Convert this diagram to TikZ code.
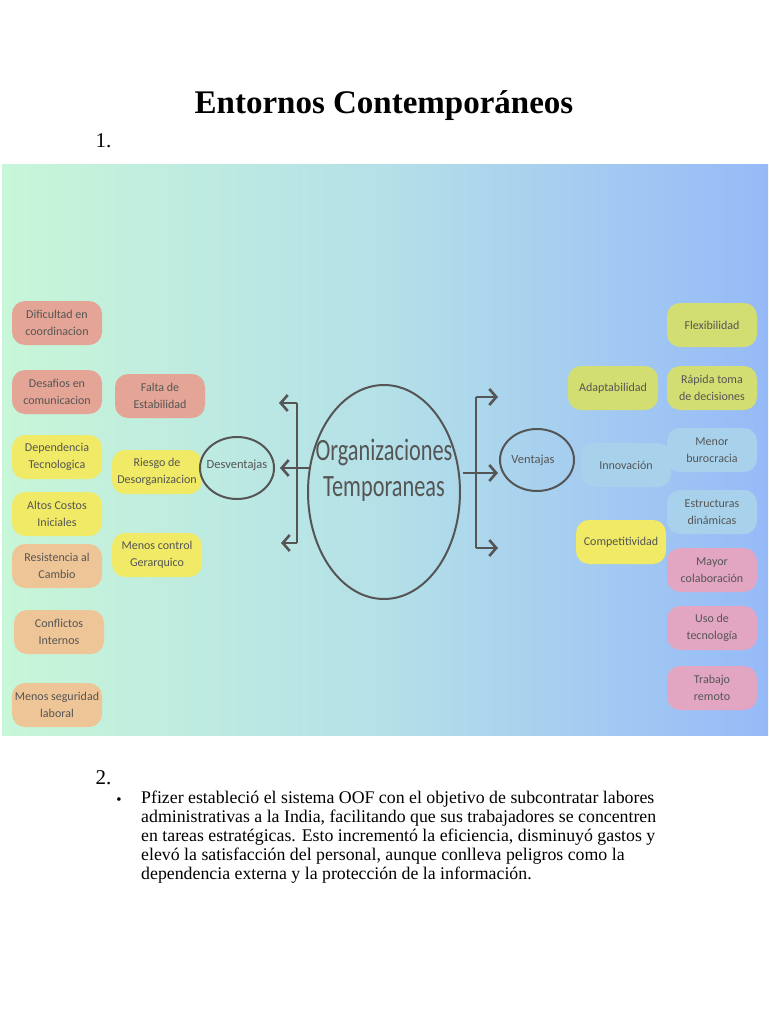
\documentclass[tikz,border=0pt]{standalone}
\usepackage{fontspec}
\setmainfont{Liberation Serif}
\newfontfamily\dfont{Carlito}
\newfontfamily\cfont[FakeStretch=0.72]{Carlito}
\usetikzlibrary{arrows.meta,shapes.geometric}
\definecolor{salm}{HTML}{E4A596}
\definecolor{yel}{HTML}{F0EA66}
\definecolor{peach}{HTML}{EEC596}
\definecolor{lime}{HTML}{D2DE72}
\definecolor{pnk}{HTML}{E2A6C2}
\definecolor{lblue}{HTML}{A8D2EC}
\definecolor{ink}{HTML}{555555}
\tikzset{
 blob/.style={fill=#1, rounded corners=13pt, minimum width=90pt, minimum height=44pt, inner sep=1pt, align=center, font=\dfont\fontsize{12}{17}\selectfont, text=ink},
 hand/.style={draw=ink, line width=2.6pt},
 harrow/.style={hand, -{Straight Barb[length=7pt,width=16pt]}},
 oval/.style={draw=ink, line width=2pt, ellipse, inner sep=0pt}
}
\begin{document}
\begin{tikzpicture}[x=1pt,y=-1pt]
\useasboundingbox (0,0) rectangle (768,1024);
\fill[white] (0,0) rectangle (768,1024);
\node[font=\bfseries\fontsize{33}{36}\selectfont] (title) at (384,106) {Entornos Contemporáneos};
\node[anchor=west,font=\fontsize{21}{24}\selectfont] (n1) at (92,141) {1.};
\fill[left color={rgb,255:red,200;green,246;blue,216}, right color={rgb,255:red,150;green,186;blue,248}, middle color={rgb,255:red,180;green,224;blue,232}] (2,165) rectangle (768,735);
% left column
\node[blob=salm] (a1) at (57,323) {Dificultad en\\coordinacion};
\node[blob=salm] (a2) at (57,392) {Desafios en\\comunicacion};
\node[blob=yel] (a3) at (57,457) {Dependencia\\Tecnologica};
\node[blob=yel] (a4) at (57,514) {Altos Costos\\Iniciales};
\node[blob=peach] (a5) at (57,566) {Resistencia al\\Cambio};
\node[blob=peach] (a6) at (59,632) {Conflictos\\Internos};
\node[blob=peach] (a7) at (57,705) {Menos seguridad\\laboral};
\node[blob=salm] (b1) at (160,396) {Falta de\\Estabilidad};
\node[blob=yel] (b2) at (157,472) {Riesgo de\\Desorganizacion};
\node[blob=yel] (b3) at (157,555) {Menos control\\Gerarquico};
% right
\node[blob=lime] (c1) at (613,388) {Adaptabilidad};
\node[blob=lblue] (c2) at (626,465) {Innovación};
\node[blob=yel] (c3) at (621,542) {Competitividad};
\node[blob=lime] (d1) at (712,325) {Flexibilidad};
\node[blob=lime] (d2) at (712,388) {Rápida toma\\de decisiones};
\node[blob=lblue] (d3) at (712,450) {Menor\\burocracia};
\node[blob=lblue] (d4) at (712,512) {Estructuras\\dinámicas};
\node[blob=pnk] (d5) at (712,570) {Mayor\\colaboración};
\node[blob=pnk] (d6) at (712,628) {Uso de\\tecnología};
\node[blob=pnk] (d7) at (712,688) {Trabajo\\remoto};
% center
\node[oval, minimum width=152pt, minimum height=214pt] (org) at (384,492) {};
\node[font=\cfont\fontsize{31}{36}\selectfont, text=ink, align=center] (orgt) at (384,470) {Organizaciones\\Temporaneas};
\node[oval, minimum width=74pt, minimum height=62pt] (des) at (237,468) {};
\node[font=\dfont\fontsize{12.5}{14}\selectfont, text=ink] (dest) at (237,465) {Desventajas};
\node[oval, minimum width=74pt, minimum height=62pt] (ven) at (537,460) {};
\node[font=\dfont\fontsize{12.5}{14}\selectfont, text=ink] (vent) at (533,460) {Ventajas};
\coordinate (lt) at (297,403); \coordinate (lb) at (297,543); \coordinate (lm) at (310,468);
\coordinate (rt) at (476,397); \coordinate (rb) at (476,548); \coordinate (rm) at (463,473);
\draw[hand] (lt) -- (lb);
\draw[harrow] (lt) -- (279,403);
\draw[harrow] (lb) -- (281,543);
\draw[harrow] (lm) -- (280,468);
\draw[hand] (rt) -- (rb);
\draw[harrow] (rt) -- (498,397);
\draw[harrow] (rb) -- (498,548);
\draw[harrow] (rm) -- (498,473);
% section 2
\node[anchor=west,font=\fontsize{21}{24}\selectfont] (n2) at (92,778) {2.};
\node[font=\fontsize{15}{18}\selectfont] (bul) at (119,801) {\textbullet};
\node[anchor=north west, inner sep=0pt, font=\fontsize{17.8}{19}\selectfont, align=left] (txt) at (141,791) {Pfizer estableció el sistema OOF con el objetivo de subcontratar labores\\administrativas a la India, facilitando que sus trabajadores se concentren\\en tareas estratégicas. Esto incrementó la eficiencia, disminuyó gastos y\\elevó la satisfacción del personal, aunque conlleva peligros como la\\dependencia externa y la protección de la información.};
\end{tikzpicture}
\end{document}
